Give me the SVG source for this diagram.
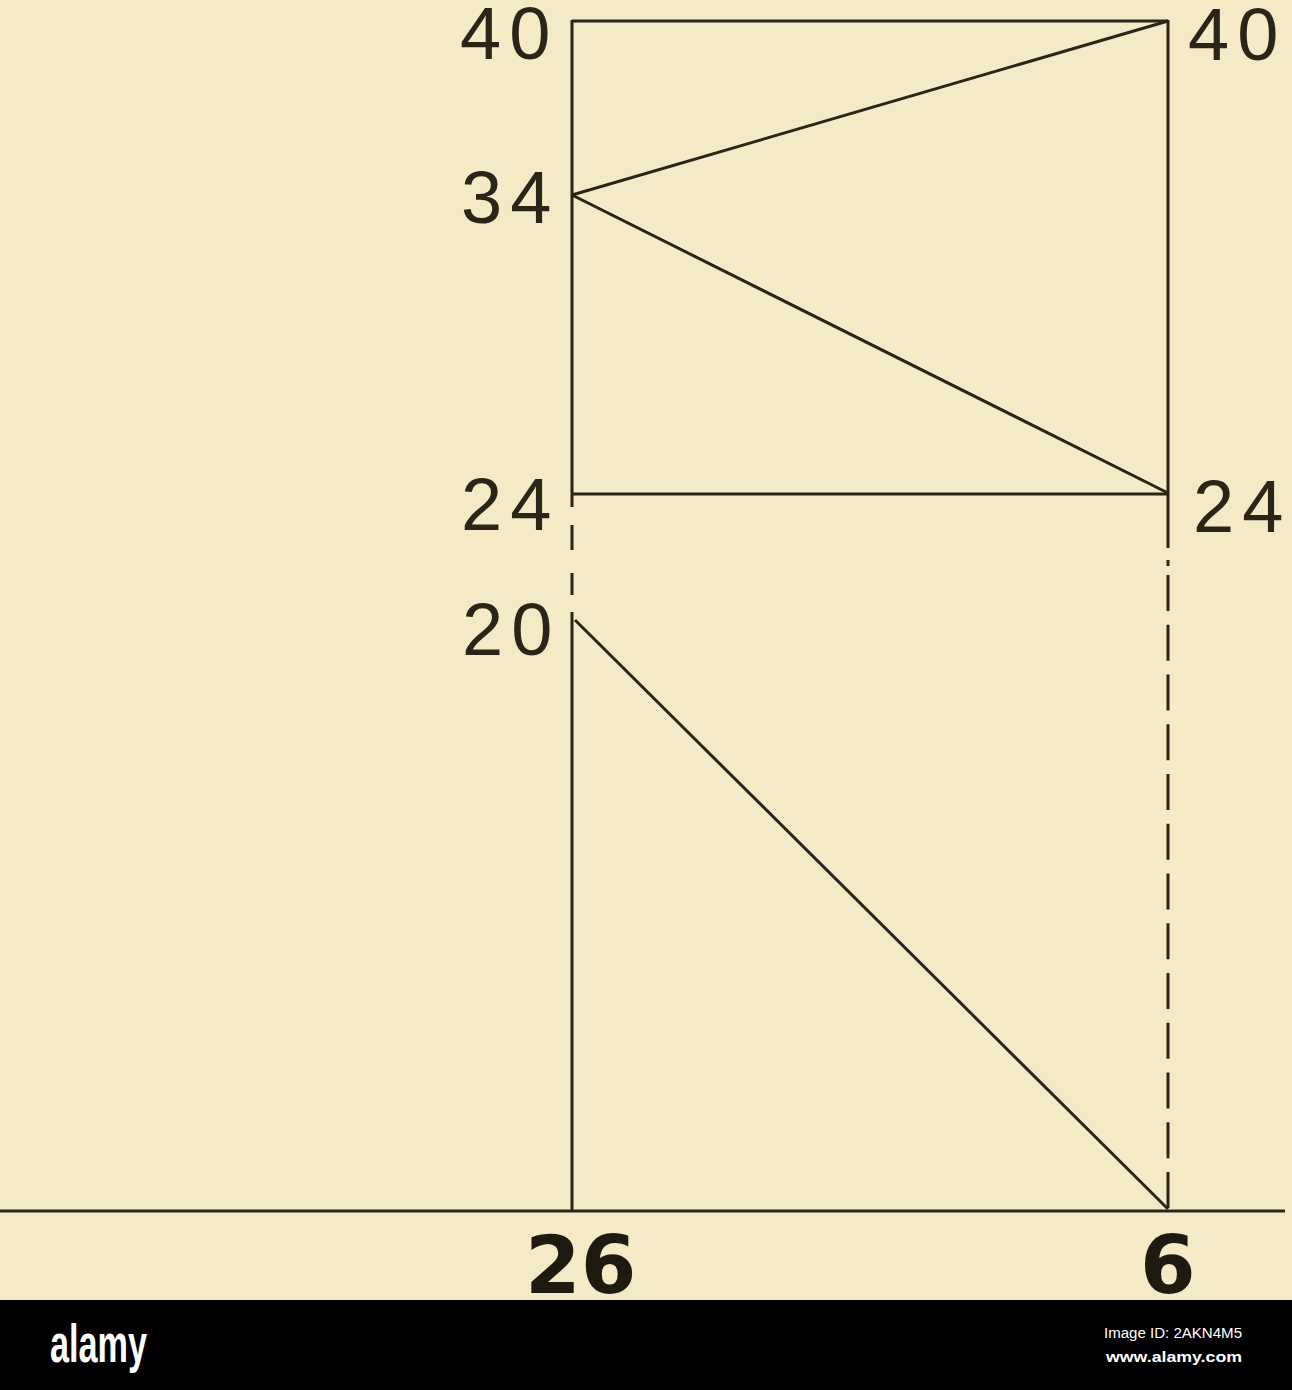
<svg xmlns="http://www.w3.org/2000/svg" width="1292" height="1390" viewBox="0 0 1292 1390">
<style>
.ln{stroke:#2a2517;stroke-width:3;fill:none;stroke-linecap:butt}
.lb{font-family:"Liberation Sans",Arial,sans-serif;font-size:74px;fill:#2a2517;letter-spacing:8px}
.bd{font-family:"DejaVu Sans",sans-serif;font-weight:bold;font-size:80px;fill:#1e1a10}
</style>
<rect x="0" y="0" width="1292" height="1390" fill="#f4ebc6"/>
<g id="connectors">
<line class="ln" x1="572" y1="20" x2="572" y2="507"/>
<line class="ln" x1="572" y1="525" x2="572" y2="550"/>
<line class="ln" x1="572" y1="573" x2="572" y2="595"/>
<line class="ln" x1="572" y1="612" x2="572" y2="1211"/>
<line class="ln" x1="1168" y1="20" x2="1168" y2="548"/>
<line class="ln" x1="1168" y1="560" x2="1168" y2="566"/>
<line class="ln" x1="1168" y1="575" x2="1168" y2="1208" stroke-dasharray="36 13.75"/>
<line class="ln" x1="572" y1="21" x2="1168" y2="21"/>
<line class="ln" x1="572" y1="195" x2="1168" y2="21"/>
<line class="ln" x1="572" y1="195" x2="1168" y2="493"/>
<line class="ln" x1="572" y1="494" x2="1168" y2="494"/>
<line class="ln" x1="575" y1="620" x2="1168" y2="1209"/>
<line class="ln" x1="0" y1="1211" x2="1285" y2="1211" stroke-width="4"/>
</g>
<g id="labels-left">
<text class="lb" x="460" y="59">40</text>
<text class="lb" x="461" y="223">34</text>
<text class="lb" x="461" y="530">24</text>
<text class="lb" x="462" y="655">20</text>
</g>
<g id="labels-right">
<text class="lb" x="1188" y="60">40</text>
<text class="lb" x="1193" y="532">24</text>
</g>
<g id="labels-bottom">
<text class="bd" x="525" y="1293">26</text>
<text class="bd" x="1140" y="1293">6</text>
</g>
<g id="banner">
<rect x="0" y="1300" width="1292" height="90" fill="#000"/>
<text x="50" y="1362" font-family="'Liberation Sans',Arial,sans-serif" font-weight="bold" font-size="54" fill="#fff" textLength="97" lengthAdjust="spacingAndGlyphs">alamy</text>
<text x="1104" y="1338" font-family="'Liberation Sans',Arial,sans-serif" font-size="14" fill="#fff" textLength="138" lengthAdjust="spacingAndGlyphs">Image ID: 2AKN4M5</text>
<text x="1106" y="1362" font-family="'Liberation Sans',Arial,sans-serif" font-weight="bold" font-size="15" fill="#fff" textLength="136" lengthAdjust="spacingAndGlyphs">www.alamy.com</text>
</g>
</svg>
